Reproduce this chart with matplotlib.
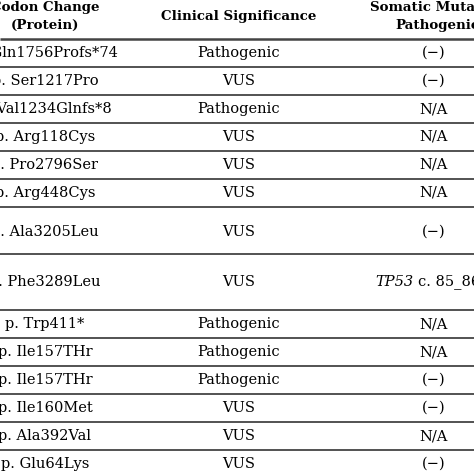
import matplotlib
matplotlib.use("Agg")
import matplotlib.pyplot as plt

headers = [["Codon Change", "(Protein)"], ["Clinical Significance"], ["Somatic Mutation", "Pathogenic"]]
codon = ["p. Gln1756Profs*74", "p. Ser1217Pro", "p. Val1234Glnfs*8", "p. Arg118Cys",
         "p. Pro2796Ser", "p. Arg448Cys", "p. Ala3205Leu", "p. Phe3289Leu", "p. Trp411*",
         "p. Ile157THr", "p. Ile157THr", "p. Ile160Met", "p. Ala392Val", "p. Glu64Lys"]
signif = ["Pathogenic", "VUS", "Pathogenic", "VUS", "VUS", "VUS", "VUS", "VUS", "Pathogenic",
          "Pathogenic", "Pathogenic", "VUS", "VUS", "VUS"]
somatic = ["(\u2212)", "(\u2212)", "N/A", "N/A", "N/A", "N/A", "(\u2212)", "TP53|c. 85_86del",
           "N/A", "N/A", "(\u2212)", "(\u2212)", "N/A", "(\u2212)"]
row_lines = [39, 67, 95, 123, 151, 179, 207, 254, 310, 338, 366, 394, 422, 450, 478]

fig = plt.figure(figsize=(4.74, 4.74), dpi=100)
ax = fig.add_axes([0, 0, 1, 1])
ax.set_xlim(0, 474)
ax.set_ylim(474, 0)
ax.axis("off")
fam = "DejaVu Serif"
fs = 10.5
hfs = 9.6
cx = [45, 239, 434]

# headers
ax.text(cx[0], 7, headers[0][0], ha="center", va="center", family=fam, fontsize=hfs, fontweight="bold")
ax.text(cx[0], 25, headers[0][1], ha="center", va="center", family=fam, fontsize=hfs, fontweight="bold")
ax.text(cx[1], 16, headers[1][0], ha="center", va="center", family=fam, fontsize=hfs, fontweight="bold")
ax.text(370, 7, headers[2][0], ha="left", va="center", family=fam, fontsize=hfs, fontweight="bold")
ax.text(395, 25, headers[2][1], ha="left", va="center", family=fam, fontsize=hfs, fontweight="bold")

for i, y in enumerate(row_lines):
    ax.plot([0, 474], [y, y], color="#444444", lw=1.8 if i == 0 else 1.3, solid_capstyle="butt")

for i in range(len(codon)):
    yc = (row_lines[i] + row_lines[i + 1]) / 2
    if i == 6:
        yc = 232
    ax.text(cx[0], yc, codon[i], ha="center", va="center", family=fam, fontsize=fs)
    ax.text(cx[1], yc, signif[i], ha="center", va="center", family=fam, fontsize=fs)
    if "|" in somatic[i]:
        a, b = somatic[i].split("|")
        ax.text(375, yc, a, ha="left", va="center", family=fam, fontsize=fs, style="italic")
        ax.text(418, yc, b, ha="left", va="center", family=fam, fontsize=fs)
    else:
        ax.text(cx[2], yc, somatic[i], ha="center", va="center", family=fam, fontsize=fs)

fig.savefig("out.png", dpi=100)
